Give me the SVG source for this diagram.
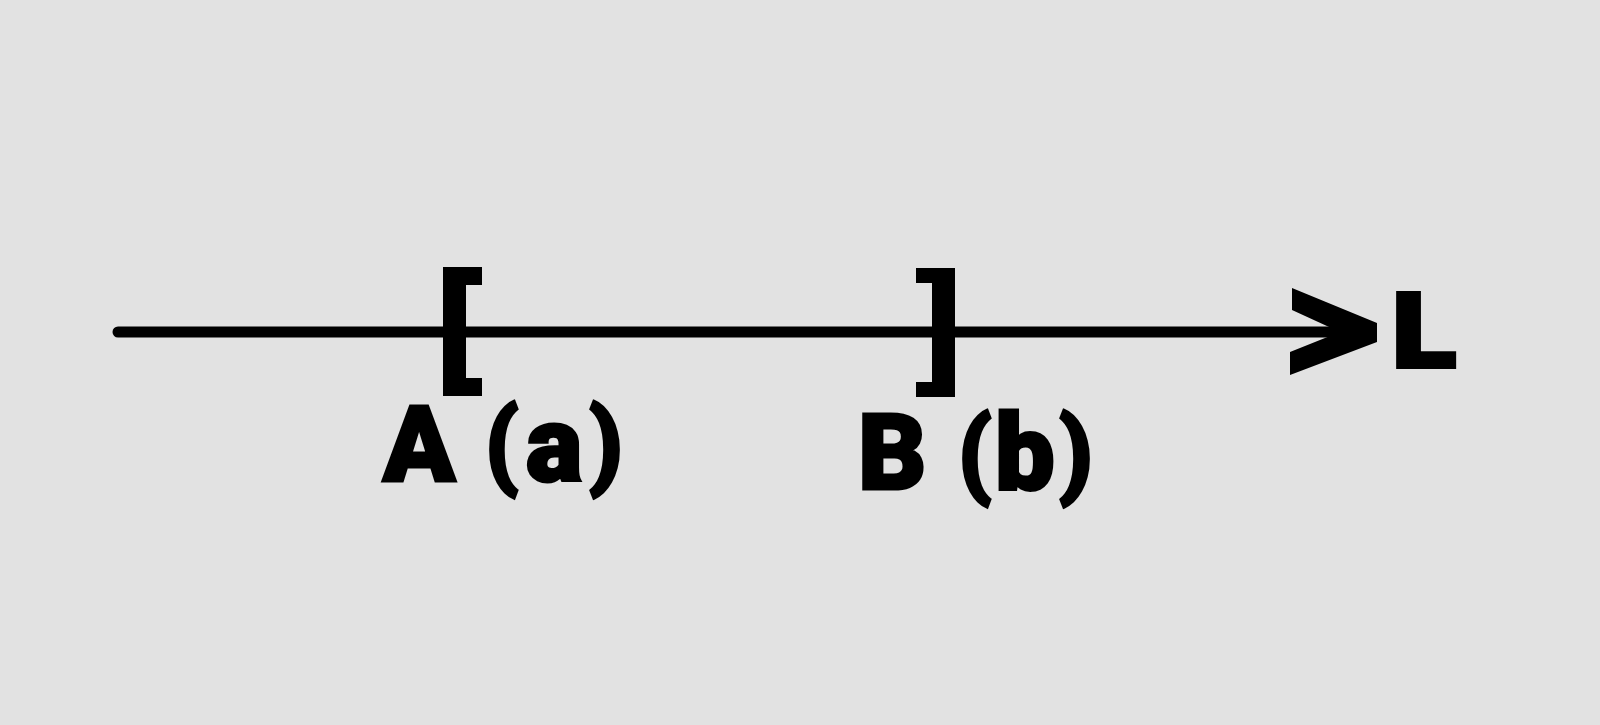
<svg xmlns="http://www.w3.org/2000/svg" width="1600" height="725" viewBox="0 0 1600 725">
<style>
.lbl{font-family:Roboto,"Liberation Sans",sans-serif;font-weight:900;fill:#000;stroke:#000;stroke-width:3;stroke-linejoin:miter}
.mk{fill:#000;stroke:none}
.par{font-size:96px}
</style>
<rect width="1600" height="725" fill="#e2e2e2"/>
<g id="connectors">
<line x1="118" y1="332" x2="1345" y2="332" stroke="#000" stroke-width="11" stroke-linecap="round"/>
<polygon class="mk" points="1292,288 1377,323 1377,342 1290,375 1290,352 1340,332 1292,310"/>
</g>
<g id="nodeA">
<path class="mk" d="M443,267 H482 V285 H466 V378 H482 V396 H443 Z"/>
<text class="lbl" y="481" font-size="106"><tspan x="383">A</tspan> <tspan class="par" x="485" y="477">(</tspan><tspan x="526" y="481">a</tspan><tspan class="par" x="589" y="477">)</tspan></text>
</g>
<g id="nodeB">
<path class="mk" d="M955,268 H916 V283 H932 V382 H916 V397 H955 Z"/>
<text class="lbl" y="489" font-size="106"><tspan x="858">B</tspan> <tspan class="par" x="958" y="486">(</tspan><tspan x="995" y="489">b</tspan><tspan class="par" x="1059" y="486">)</tspan></text>
</g>
<g id="nodeL">
<text class="lbl" x="1392" y="367" font-size="104" style="stroke-width:4" textLength="64" lengthAdjust="spacingAndGlyphs">L</text>
</g>
</svg>
